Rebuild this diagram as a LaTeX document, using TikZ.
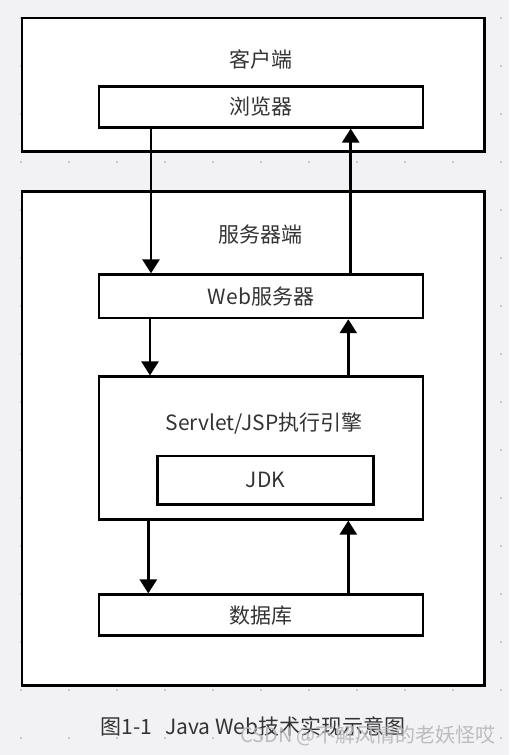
\documentclass[tikz,border=0pt]{standalone}
\usepackage{fontspec}
\setmainfont{Noto Sans CJK SC}
\usetikzlibrary{arrows.meta}
\definecolor{bggray}{RGB}{242,242,244}
\definecolor{dotgray}{RGB}{200,200,204}
\definecolor{ink}{RGB}{51,51,51}
\definecolor{markgray}{RGB}{178,178,184}

\begin{document}
\begin{tikzpicture}[x=1pt,y=1pt,>={Triangle[width=17pt,length=14pt]},
every node/.style={font=\fontsize{21pt}{25pt}\selectfont,text=ink},
box/.style={draw,line width=2.6pt,fill=white,inner sep=0pt},
wide/.style={box,minimum width=324pt,minimum height=41pt},
flow/.style={->,line width=2.6pt}]
\useasboundingbox (0,0) rectangle (509,755);
\fill[bggray] (0,0) rectangle (509,755);
% dot grid
\foreach \i in {0,...,10}
  \foreach \j in {0,...,15}
    \fill[dotgray] (20.5+48*\i-1,737-48*\j-1) rectangle ++(2,2);
% outer boxes
\node[box,minimum width=462.3pt,minimum height=133.3pt] (client) at (253.2,670.3) {};
\node[box,minimum width=462.3pt,minimum height=494pt] (server) at (253.2,316.7) {};
\node[anchor=base] (clientlbl) at (260.5,687.4) {客户端};
\node[anchor=base] (serverlbl) at (260.5,512.4) {服务器端};
% inner boxes
\node[wide] (browser) at (261,648.2) {浏览器};
\node[wide,minimum height=43.3pt] (web) at (261,458.7) {Web服务器};
\node[wide,minimum height=142.6pt] (engine) at (261,307) {};
\node[anchor=base] (enginelbl) at (264,324.4) {Servlet/JSP执行引擎};
\node[box,minimum width=216.4pt,minimum height=48.7pt] (jdk) at (265.5,274.7) {JDK};
\node[wide] (db) at (261,139.8) {数据库};
% request and response
\path[flow] ([xshift=-110pt]browser.south) edge ([xshift=-110pt]web.north)
  ([xshift=89.7pt]web.north) edge ([xshift=89.7pt]browser.south)
  ([xshift=-111pt]web.south) edge ([xshift=-111pt]engine.north)
  ([xshift=87.3pt]engine.north) edge ([xshift=87.3pt]web.south)
  ([xshift=-112.7pt]engine.south) edge ([xshift=-112.7pt]db.north)
  ([xshift=87.3pt]db.north) edge ([xshift=87.3pt]engine.south);
% caption
\node[anchor=base] (caption) at (253,20.7) {图1-1\hspace{0.6em}Java Web技术实现示意图};
\node[anchor=base,font=\fontsize{20pt}{24pt}\selectfont,text=markgray,text opacity=0.85] (mark) at (368,12.4) {CSDN @不解风情的老妖怪哎};
\end{tikzpicture}
\end{document}
